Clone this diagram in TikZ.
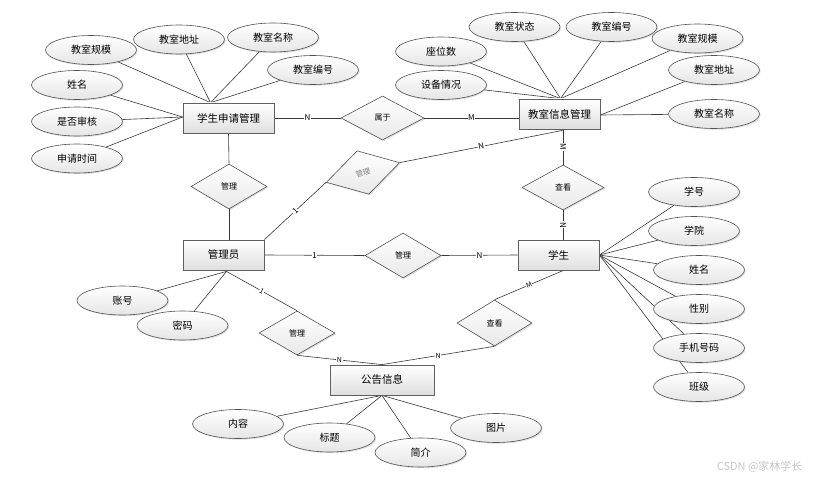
\documentclass[tikz,border=0pt]{standalone}
\usepackage{fontspec}
\setmainfont{Noto Sans CJK SC}
\usetikzlibrary{shapes.geometric,shadows,calc,backgrounds}
\begin{document}
\begin{tikzpicture}[x=1pt,y=-1pt,
  shd/.style={drop shadow={opacity=0.25,shadow xshift=1.2pt,shadow yshift=-1.2pt}},
  ent/.style={rectangle,draw=gray!75!black,line width=0.8pt,top color=white,bottom color=gray!25,
    minimum height=30pt,inner sep=0pt,font=\fontsize{10.5}{12}\selectfont,shd},
  attr/.style={ellipse,draw=gray!65!black,line width=0.6pt,top color=white,bottom color=gray!20,
    minimum width=91pt,minimum height=29pt,inner sep=0pt,font=\fontsize{10}{12}\selectfont,shd},
  rel/.style={diamond,draw=gray!65!black,line width=0.6pt,top color=white,bottom color=gray!18,
    inner sep=0pt,font=\fontsize{8}{10}\selectfont,shd},
  conn/.style={draw=gray!45!black,line width=0.6pt},
  card/.style={fill=white,inner sep=0.6pt,font=\fontsize{8}{9}\selectfont}]
\useasboundingbox (0,0) rectangle (816,484);

% entities
\node[ent,minimum width=91pt] (sq) at (228.5,118) {学生申请管理};
\node[ent,minimum width=81pt] (ci) at (559.5,114) {教室信息管理};
\node[ent,minimum width=81pt] (ad) at (223.5,255) {管理员};
\node[ent,minimum width=81pt] (st) at (558.5,255) {学生};
\node[ent,minimum width=104pt] (gg) at (382,380) {公告信息};

% relationships
\node[rel,minimum width=83pt,minimum height=44pt] (sy) at (382.5,118) {属于};
\node[rel,minimum width=76pt,minimum height=45pt] (r1) at (229,186.5) {管理};
\node[rel,minimum width=76pt,minimum height=45pt] (r2) at (403,255.5) {管理};
\node[rel,minimum width=82pt,minimum height=45pt] (cd) at (563,187.5) {查看};
\node[rel,minimum width=75pt,minimum height=46pt] (ce) at (494.5,323) {查看};
\node[rel,minimum width=76pt,minimum height=44pt] (r3) at (297,333) {管理};
\node[rel,minimum width=76pt,minimum height=45pt,rotate=15,text=gray,font=\fontsize{7.5}{9}\selectfont] (rd) at (363,172.5) {管理};

% attributes of 学生申请管理
\node[attr] (a1) at (91,50) {教室规模};
\node[attr] (a2) at (179,39.5) {教室地址};
\node[attr] (a3) at (273,37.5) {教室名称};
\node[attr] (a4) at (313,70) {教室编号};
\node[attr] (a5) at (77,85) {姓名};
\node[attr] (a6) at (77,121.5) {是否审核};
\node[attr] (a7) at (77,158.5) {申请时间};

% attributes of 教室信息管理
\node[attr] (b1) at (441,51.5) {座位数};
\node[attr] (b2) at (514.5,27) {教室状态};
\node[attr] (b3) at (611.5,27) {教室编号};
\node[attr] (b4) at (697.5,38.5) {教室规模};
\node[attr] (b5) at (441,85) {设备情况};
\node[attr] (b6) at (714,70) {教室地址};
\node[attr] (b7) at (714,114) {教室名称};

% attributes of 学生
\node[attr] (c1) at (694,192) {学号};
\node[attr] (c2) at (694,231) {学院};
\node[attr] (c3) at (699,270) {姓名};
\node[attr] (c4) at (699,309) {性别};
\node[attr] (c5) at (699,348) {手机号码};
\node[attr] (c6) at (699,387) {班级};

% attributes of 管理员
\node[attr] (d1) at (122.5,300.5) {账号};
\node[attr] (d2) at (182.5,325.5) {密码};

% attributes of 公告信息
\node[attr] (e1) at (238,424) {内容};
\node[attr] (e2) at (329.5,437.5) {标题};
\node[attr] (e3) at (420.5,452.5) {简介};
\node[attr] (e4) at (496,428) {图片};

% junction points
\coordinate (sqt) at ($(sq.north)+(-18,0)$);
\coordinate (sql) at ($(sq.west)+(0,-1)$);
\coordinate (cit) at ($(ci.north)+(1,0)$);
\coordinate (cir) at ($(ci.east)+(0,1)$);
\coordinate (cib) at ($(ci.south)+(3,1)$);
\coordinate (adb) at ($(ad.south)+(3,1)$);
\coordinate (stb) at ($(st.south)+(5,0)$);

\begin{scope}[on background layer]
\draw[conn] (a1) -- (sqt);
\draw[conn] (a2) -- (sqt);
\draw[conn] (a3) -- (sqt);
\draw[conn] (a4) -- (sqt);
\draw[conn] (a5) -- (sql);
\draw[conn] (a6) -- (sql);
\draw[conn] (a7) -- (sql);

\draw[conn] (b1) -- (cit);
\draw[conn] (b2) -- (cit);
\draw[conn] (b3) -- (cit);
\draw[conn] (b4) -- (cit);
\draw[conn] (b5) -- (cit);
\draw[conn] (b6) -- (cir);
\draw[conn] (b7) -- (cir);

\foreach \c in {c1,c2,c3,c4,c5,c6} \draw[conn] (\c) -- (st.east);

\draw[conn] (d1) -- (adb);
\draw[conn] (d2) -- (adb);

\foreach \e in {e1,e2,e3,e4} \draw[conn] (\e) -- (gg.south);

% relationship connectors
\draw[conn] (sq.east) -- node[card]{N} (sy.west);
\draw[conn] (sy.east) -- node[card]{M} (sy.east -| ci.west);
\draw[conn] (sq.south) -- (r1.north);
\draw[conn] (r1.south) -- (r1.south |- ad.north);
\draw[conn] (ad.east) -- node[card]{1} (r2.west);
\draw[conn] (r2.east) -- node[card]{N} (st.west);
\draw[conn] (cd.north |- ci.south) -- node[card,sloped]{M} (cd.north);
\draw[conn] (cd.south) -- node[card,sloped]{N} (cd.south |- st.north);
\draw[conn] (ad.north east) -- node[card,sloped]{1} (rd.west);
\draw[conn] (rd.east) -- node[card,sloped]{N} (cib);
\draw[conn] (adb) -- node[card,sloped,font=\fontsize{7}{8}\selectfont\itshape]{1} (r3.north);
\draw[conn] (r3.south) -- node[card,font=\fontsize{7}{8}\selectfont]{N} (gg.north);
\draw[conn] (stb) -- node[card,sloped,font=\fontsize{7}{8}\selectfont]{M} (ce.north);
\draw[conn] (ce.south) -- node[card,font=\fontsize{7}{8}\selectfont]{N} (gg.north);
\end{scope}

% watermark
\node[text=gray!45,font=\fontsize{11}{13}\selectfont,anchor=east] (wm) at (806,467) {CSDN @家林学长};
\end{tikzpicture}
\end{document}
